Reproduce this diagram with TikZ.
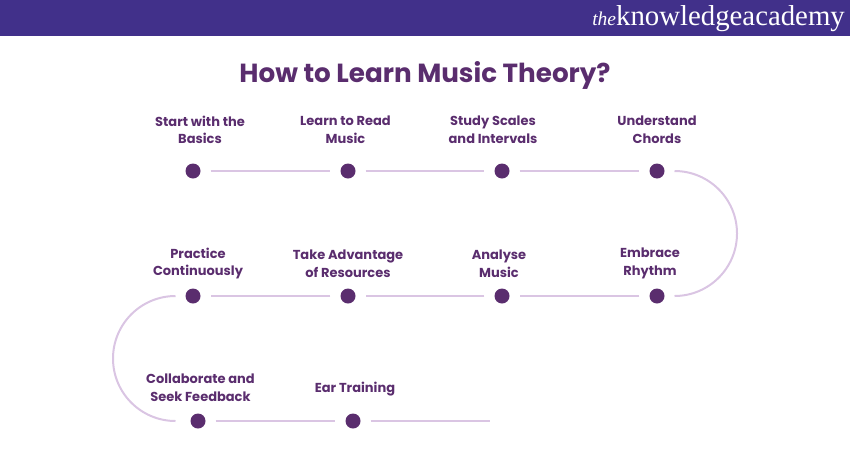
\documentclass[tikz,border=0pt]{standalone}
\usepackage{fontspec}
\setmainfont{Poppins}
\newfontfamily\logofont{Liberation Serif}
\usetikzlibrary{calc}
\definecolor{headerviolet}{HTML}{41308A}
\definecolor{plum}{HTML}{5A2D6E}
\definecolor{lilac}{HTML}{DAC5E3}
\tikzset{
    stepdot/.style={circle,fill=plum,inner sep=0pt,minimum size=15pt},
    steplabel/.style={text=plum,font=\fontsize{13}{17.6}\selectfont\bfseries,align=center,inner sep=0pt},
    track/.style={draw=lilac,line width=2pt},
    gapped/.style={track,shorten <=10pt,shorten >=10pt}
}
\begin{document}
\begin{tikzpicture}[x=1pt,y=-1pt]
                    \useasboundingbox (0,0) rectangle (850,450);
                    \fill[headerviolet] (0,0) rectangle (850,36);

                    \node[text=white,font=\logofont\fontsize{28.8}{30}\selectfont,anchor=base east,inner sep=0pt] (brand) at (845,25) {\textit{\fontsize{19.5}{20}\selectfont the}knowledgeacademy};
                    \node[text=plum,font=\fontsize{26.2}{30}\selectfont\bfseries,inner sep=0pt] (heading) at (425,75) {How to Learn Music Theory?};

                    \node[stepdot] (basics) at (193,171) {};
                    \node[stepdot] (read) at (348,171) {};
                    \node[stepdot] (scales) at (502,171) {};
                    \node[stepdot] (chords) at (657,171) {};
                    \node[stepdot] (rhythm) at (657,296) {};
                    \node[stepdot] (analyse) at (502,296) {};
                    \node[stepdot] (resources) at (348,296) {};
                    \node[stepdot] (practice) at (193,296) {};
                    \node[stepdot] (collaborate) at (198,421) {};
                    \node[stepdot] (ear) at (353,421) {};
                    \coordinate (trackend) at (500,421);

                    \node[steplabel] (basicstext) at (200,130) {Start with the\\Basics};
                    \node[steplabel] (readtext) at (345.5,130) {Learn to Read\\Music};
                    \node[steplabel] (scalestext) at (493,130) {Study Scales\\and Intervals};
                    \node[steplabel] (chordstext) at (657,130) {Understand\\Chords};
                    \node[steplabel] (rhythmtext) at (650,263.5) {Embrace\\Rhythm};
                    \node[steplabel] (analysetext) at (499,263.5) {Analyse\\Music};
                    \node[steplabel] (resourcestext) at (348,263.5) {Take Advantage\\of Resources};
                    \node[steplabel] (practicetext) at (198,263.5) {Practice\\Continuously};
                    \node[steplabel] (collaboratetext) at (200.5,388) {Collaborate and\\Seek Feedback};
                    \node[steplabel] (eartext) at (355,389) {Ear Training};

                    \draw[gapped] (basics) -- (read);
                    \draw[gapped] (read) -- (scales);
                    \draw[gapped] (scales) -- (chords);
                    \draw[gapped] (rhythm) -- (analyse);
                    \draw[gapped] (analyse) -- (resources);
                    \draw[gapped] (resources) -- (practice);
                    \draw[gapped] (collaborate) -- (ear);
                    \draw[gapped] (ear) -- (trackend);

                    \draw[track] ($(chords)+(17.5,0)$) arc[start angle=-90,end angle=90,radius=62.5];
                    \draw[track] ($(practice)+(-17.5,0)$) arc[start angle=-90,end angle=-270,radius=62.5];
                \end{tikzpicture}
\end{document}
